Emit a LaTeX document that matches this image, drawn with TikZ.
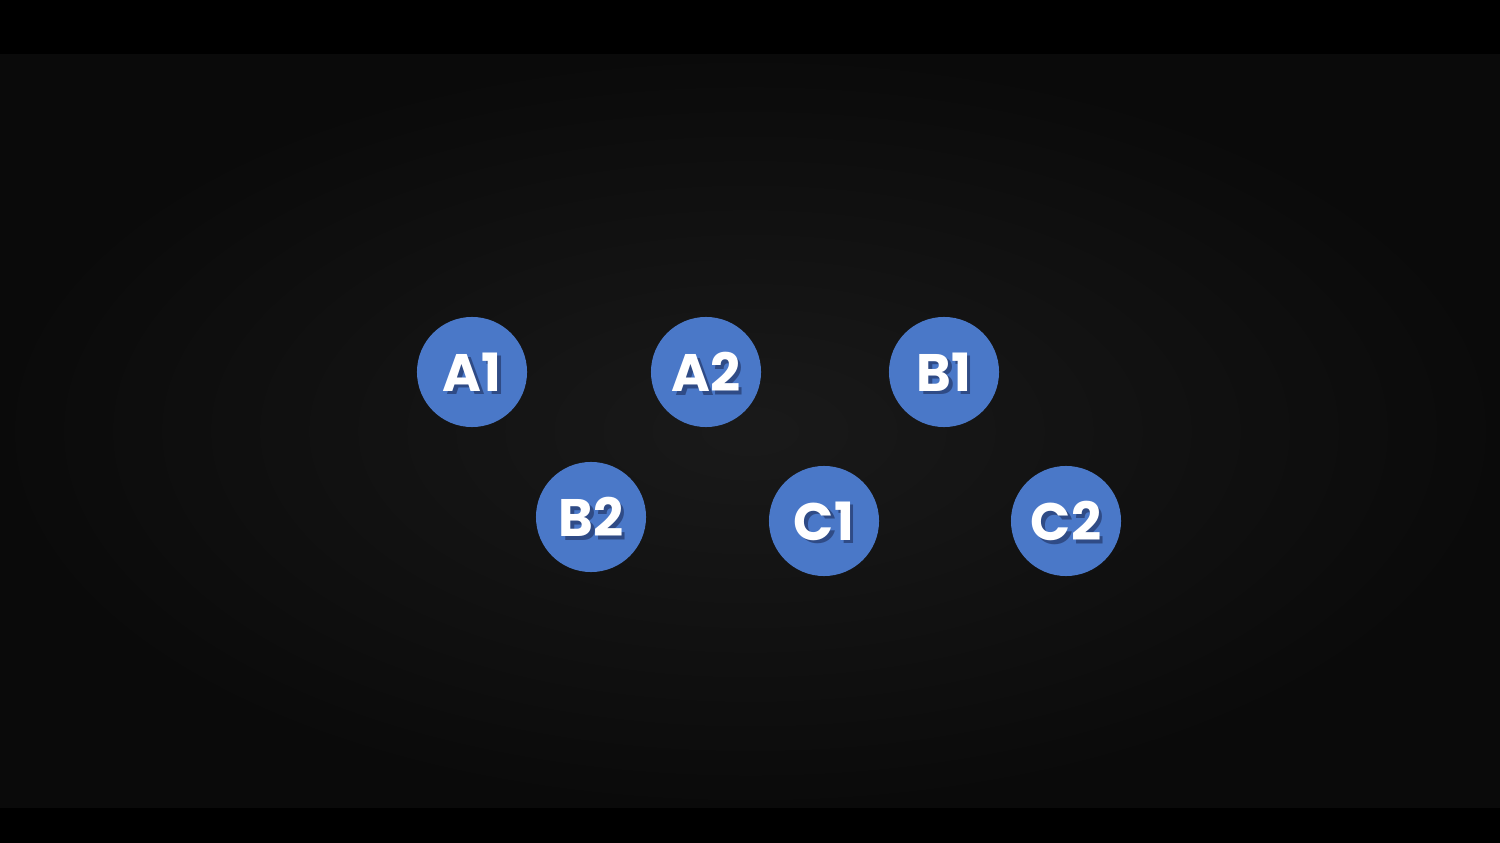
\documentclass[tikz,border=0pt]{standalone}
\usepackage{fontspec}
\setmainfont{Poppins}
\usetikzlibrary{shadings}
\definecolor{ballblue}{HTML}{4A78C8}
\definecolor{shadowblue}{HTML}{1E2E5A}

\begin{document}
\begin{tikzpicture}[x=0.01cm,y=-0.01cm,
  ball/.style={circle,fill=ballblue,minimum size=1.1cm,inner sep=0pt,
    font=\fontsize{15}{15}\selectfont\bfseries,text=white},
  ballshade/.style={font=\fontsize{15}{15}\selectfont\bfseries,text=shadowblue,opacity=0.6}]
\useasboundingbox (0,0) rectangle (1500,843);
\fill[black] (0,0) rectangle (1500,843);
\shade[inner color=black!90!white,outer color=black!96!white] (0,55) rectangle (1500,807);
% top row
\node[ball] (A1) at (472,372) {};
\node[ball] (A2) at (706,372) {};
\node[ball] (B1) at (944,372) {};
% bottom row
\node[ball] (B2) at (591,517) {};
\node[ball] (C1) at (824,521) {};
\node[ball] (C2) at (1066,521) {};
% labels with a soft shadow
\foreach \n in {A1,A2,B1,B2,C1,C2}{
  \node[ballshade] at ([shift={(1pt,-1pt)}]\n.center) {\n};
  \node[ball,fill=none] at (\n.center) {\n};
}
\end{tikzpicture}
\end{document}
